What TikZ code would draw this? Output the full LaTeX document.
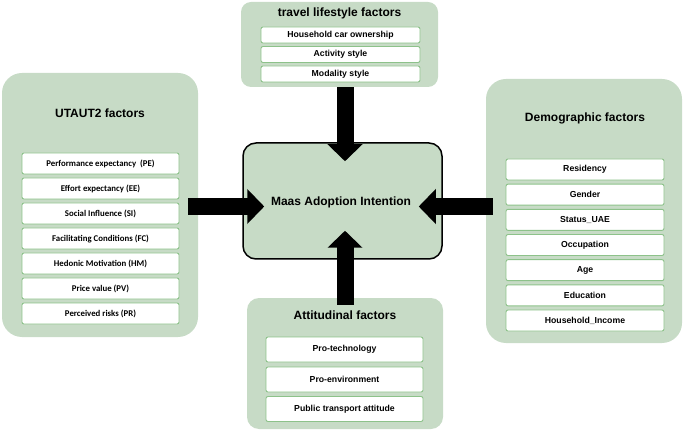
\documentclass[tikz,border=0pt]{standalone}
\usepackage{fontspec}
\setmainfont{Liberation Sans}
\newfontfamily\calfont{Carlito}
\usetikzlibrary{arrows.meta,calc}
\definecolor{sage}{HTML}{C7DBC6}
\definecolor{itemborder}{HTML}{8DC28A}
\begin{document}
\begin{tikzpicture}[x=1pt,y=-1pt,
  panel/.style={fill=sage, draw=none, inner sep=0pt},
  itembox/.style={fill=white, draw=itemborder, line width=0.9pt, rounded corners=2pt, inner sep=0pt, font=\fontsize{8.7}{10}\selectfont\bfseries},
  calitem/.style={itembox, font=\calfont\fontsize{8.8}{10}\selectfont\bfseries},
  ttl/.style={font=\fontsize{12}{14}\selectfont\bfseries, inner sep=0pt},
  bigarrow/.style={line width=17pt, -{Triangle[length=17pt 0 0, width=34pt 0 0]}, black}
]
\useasboundingbox (0,0) rectangle (685,430);

% panels
\node[panel, rounded corners=20pt, minimum width=196pt, minimum height=264pt] (utaut) at (100,205) {};
\node[panel, rounded corners=10pt, minimum width=197pt, minimum height=85pt] (travel) at (339.5,44.5) {};
\node[panel, rounded corners=20pt, minimum width=196pt, minimum height=264pt] (demo) at (584,211) {};
\node[panel, rounded corners=12pt, minimum width=196pt, minimum height=131pt] (att) at (345,363.5) {};

% central box
\node[fill=sage, draw=black, line width=1.5pt, rounded corners=13pt, minimum width=199pt, minimum height=116pt, inner sep=0pt] (maas) at (342.5,201) {};
\node[ttl] (maastxt) at (341,202) {Maas Adoption Intention};

% titles
\node[ttl] (utauttitle) at (100,113) {UTAUT2 factors};
\node[ttl] (traveltitle) at (339.5,13) {travel lifestyle factors};
\node[ttl] (demotitle) at (585,118) {Demographic factors};
\node[ttl] (atttitle) at (345,315) {Attitudinal factors};

% UTAUT2 items
\foreach \t [count=\i from 0] in {Performance expectancy~~(PE),Effort expectancy (EE),Social Influence (SI),Facilitating Conditions (FC),Hedonic Motivation (HM),Price value (PV),Perceived risks (PR)}
  \node[calitem, minimum width=157pt, minimum height=21pt] (u\i) at (100.5,163.5+25*\i) {\t};

% travel items
\node[itembox, minimum width=159pt, minimum height=16pt] (t0) at (340.5,35) {Household car ownership};
\node[itembox, minimum width=159pt, minimum height=16pt] (t1) at (340.5,54.5) {Activity style};
\node[itembox, minimum width=159pt, minimum height=16pt] (t2) at (340.5,74) {Modality style};

% demographic items
\foreach \t [count=\i from 0] in {Residency,Gender,Status\_UAE,Occupation,Age,Education,Household\_Income}
  \node[itembox, minimum width=158pt, minimum height=21pt] (d\i) at (585,169.5+25.17*\i) {\t};

% attitudinal items
\node[itembox, minimum width=157pt, minimum height=25pt] (a0) at (344.5,349.5) {Pro-technology};
\node[itembox, minimum width=157pt, minimum height=25pt] (a1) at (344.5,379.5) {Pro-environment};
\node[itembox, minimum width=157pt, minimum height=25pt] (a2) at (344.5,409) {Public transport attitude};

% arrows
\coordinate (lS) at ($(utaut.east |- 0,206.5)+(-10,0)$);
\coordinate (lE) at ($(maas.west |- 0,206.5)+(22,0)$);
\coordinate (rS) at ($(demo.west |- 0,206.5)+(7,0)$);
\coordinate (rE) at ($(maas.east |- 0,206.5)+(-24,0)$);
\coordinate (tS) at ($(travel.south -| 345,0)$);
\coordinate (tE) at ($(maas.north -| 345,0)+(0,19)$);
\coordinate (bS) at ($(att.north -| 345,0)+(0,7)$);
\coordinate (bE) at ($(maas.south -| 345,0)+(0,-29)$);
\draw[bigarrow] (lS) -- (lE);
\draw[bigarrow] (rS) -- (rE);
\draw[bigarrow] (tS) -- (tE);
\draw[bigarrow] (bS) -- (bE);
\end{tikzpicture}
\end{document}
